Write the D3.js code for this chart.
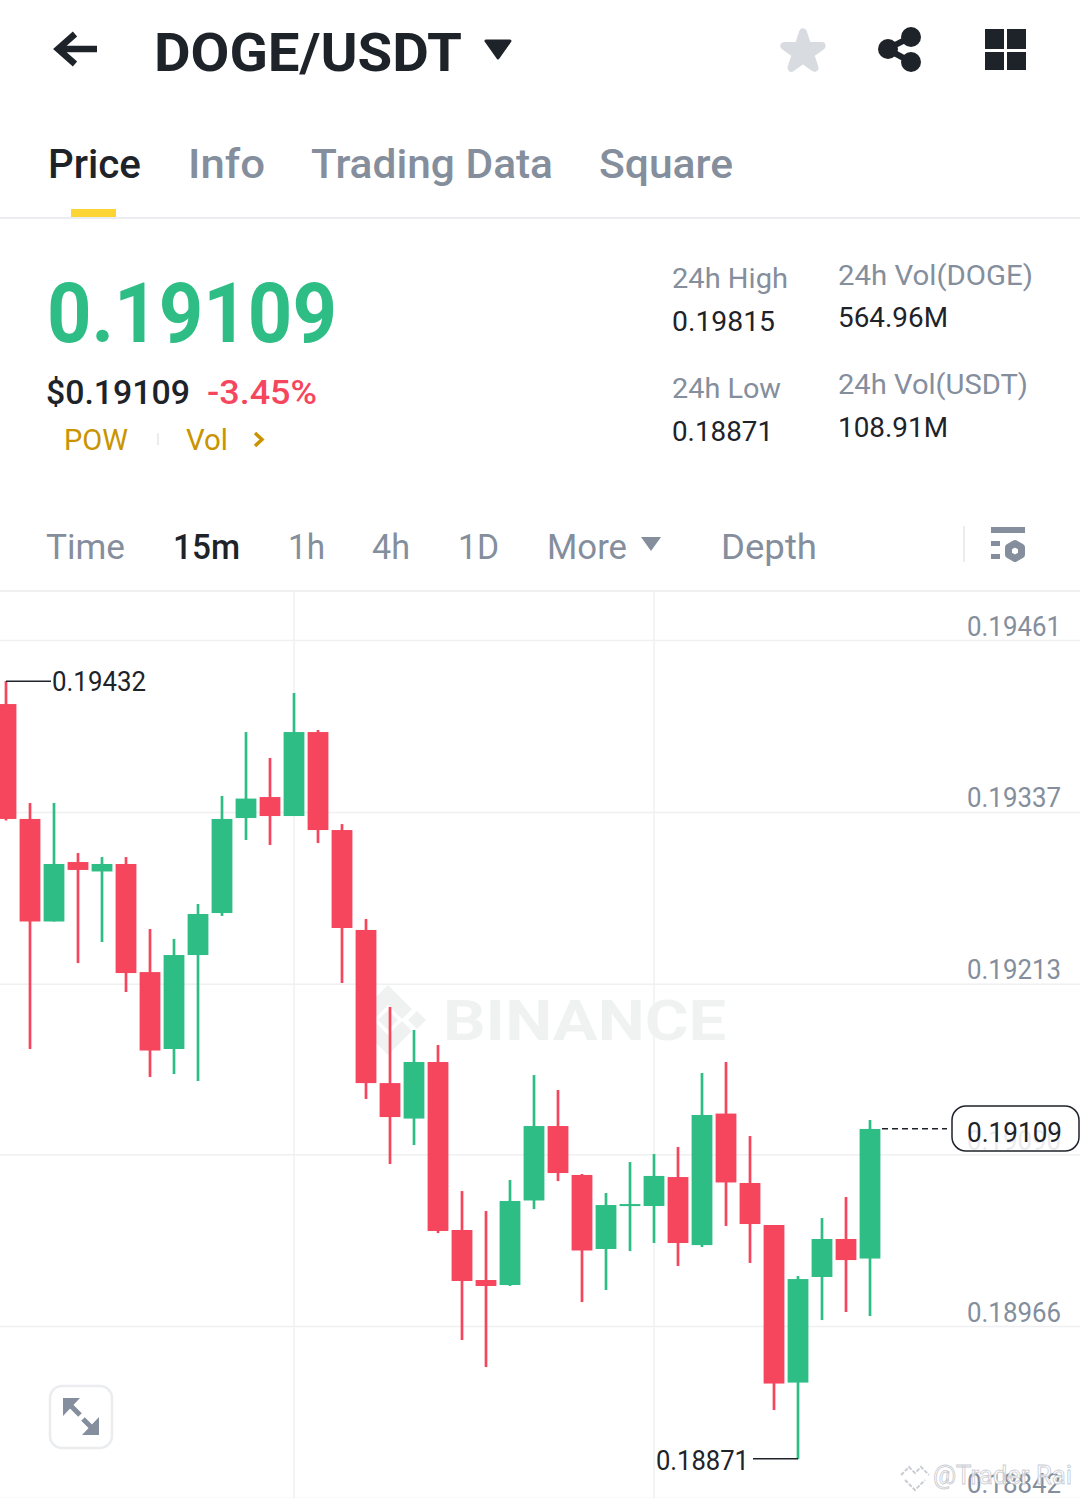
<!DOCTYPE html>
<html><head><meta charset="utf-8">
<script src="https://cdn.jsdelivr.net/npm/d3@7"></script>
<style>html,body{margin:0;padding:0;background:#fff}svg{display:block}text{font-family:Roboto,"Noto Sans",sans-serif}</style>
</head><body><svg id="c" width="1080" height="1498"></svg>
<script>
// ---- data
const colors = ["r","r","g","r","g","r","r","g","g","g","g","r","g","r","r","r","r","g","r","r","r","g","g","r","r","g","g","g","r","g","r","r","r","g","g","r","g"];
const opens  = [.194155,.193326,.192586,.193015,.192947,.193001,.192221,.191666,.192344,.192647,.193333,.193484,.193347,.193953,.193246,.192525,.191420,.191164,.191572,.190360,.189999,.189963,.190573,.191110,.190757,.190223,.190533,.190533,.190742,.190251,.191200,.190699,.190396,.189259,.190021,.190295,.190154];
const closes = [.193326,.192586,.193001,.192958,.193001,.192214,.191655,.192344,.192640,.193326,.193473,.193347,.193953,.193246,.192539,.191420,.191175,.191572,.190353,.189992,.189956,.190569,.191110,.190771,.190212,.190540,.190547,.190750,.190266,.191190,.190703,.190403,.189252,.190006,.190295,.190143,.191089];
const highs  = [.194321,.193441,.193441,.193080,.193051,.193051,.192532,.192460,.192712,.193492,.193953,.193766,.194235,.193968,.193289,.192604,.191969,.191803,.191695,.190641,.190497,.190721,.191478,.191370,.190764,.190627,.190850,.190908,.190959,.191493,.191572,.191038,.190396,.190028,.190446,.190598,.191154];
const lows   = [.193315,.191666,.192586,.192286,.192438,.192077,.191464,.191485,.191435,.192626,.193174,.193138,.193347,.193152,.192142,.191305,.190836,.190973,.190338,.189566,.189371,.189956,.190511,.190713,.189840,.189927,.190208,.190266,.190100,.190237,.190389,.190122,.189061,.188707,.189710,.189768,.189739];
const priceTicks = [0.19461,0.19337,0.19213,0.19090,0.18966,0.18842];
const gridCandles = [12,27];
const lastPrice = 0.19109, hiMark = 0.19432, loMark = 0.18871, hiIdx = 0, loIdx = 33;
const tabs = [["Price",48,141,"#1e2329",500],["Info",188,265,"#848e9c",500],["Trading Data",311,553,"#848e9c",500],["Square",599,733,"#848e9c",500]];
const intervals = [["Time",46,125,"#848e9c",400],["15m",173,240,"#1e2329",500],["1h",288,325,"#848e9c",400],["4h",372,410,"#848e9c",400],["1D",458,499,"#848e9c",400],["More",547,627,"#848e9c",400],["Depth",721,817,"#848e9c",400]];
const stats = [["24h High",672,788,288,"#848e9c"],["0.19815",672,775,331,"#1e2329"],["24h Low",672,781,398,"#848e9c"],["0.18871",672,773,441,"#1e2329"],["24h Vol(DOGE)",838,1033,285,"#848e9c"],["564.96M",838,948,327,"#1e2329"],["24h Vol(USDT)",838,1028,394,"#848e9c"],["108.91M",838,948,437,"#1e2329"]];

const RED="#f6465d", GREEN="#2ebd85", DARK="#1e2329", GREY="#848e9c", LINE="#eff0f2";
const svg=d3.select("#c");
const y=d3.scaleLinear().domain([0.19461,0.18966]).range([641,1327]);
const x=d3.scaleLinear().domain([0,36]).range([6,870]);

function T(s,x0,x1,base,size,weight,fill,g){
  const t=(g||svg).append("text").attr("x",x0).attr("y",base).attr("font-size",size).attr("font-weight",weight).attr("fill",fill).text(s);
  if(x1!=null) t.attr("textLength",x1-x0).attr("lengthAdjust","spacingAndGlyphs");
  return t;
}
// header
svg.append("path").attr("d","M97 49H58 M75 34L58 49L75 64").attr("fill","none").attr("stroke",DARK).attr("stroke-width",6.5);
T("DOGE/USDT",154,462,71,53,700,DARK);
svg.append("path").attr("d","M486 41H510L498 58Z").attr("fill",DARK).attr("stroke",DARK).attr("stroke-width",3).attr("stroke-linejoin","round");
svg.append("path").attr("d",d3.symbol().type(d3.symbolStar).size(430)()).attr("transform","translate(803,52)").attr("fill","#d8dbdf").attr("stroke","#d8dbdf").attr("stroke-width",8).attr("stroke-linejoin","round");
svg.append("path").attr("d","M911 37L887 49L911 62").attr("fill","none").attr("stroke",DARK).attr("stroke-width",6);
[[911,37],[888,49],[911,62]].forEach(p=>svg.append("circle").attr("cx",p[0]).attr("cy",p[1]).attr("r",10).attr("fill",DARK));
[[985,29,19,20],[1007,29,19,20],[985,52,19,18],[1007,52,19,18]].forEach(r=>svg.append("rect").attr("x",r[0]).attr("y",r[1]).attr("width",r[2]).attr("height",r[3]).attr("fill",DARK));
// tabs
tabs.forEach(t=>T(t[0],t[1],t[2],178,41,t[4],t[3]));
svg.append("rect").attr("x",71).attr("y",209).attr("width",45).attr("height",8).attr("fill","#fcd535");
svg.append("rect").attr("x",0).attr("y",217).attr("width",1080).attr("height",2).attr("fill","#eaecef");
// price block
T("0.19109",47,337,342,84,700,GREEN);
T("$0.19109",46,190,404,33,500,DARK);
T("-3.45%",207,317,404,33,500,RED);
T("POW",64,128,450,29,400,"#c99400");
svg.append("rect").attr("x",157).attr("y",433).attr("width",2).attr("height",12).attr("fill","#eaecef");
T("Vol",186,228,450,29,400,"#c99400");
svg.append("path").attr("d","M255 433L262 439.5L255 446").attr("fill","none").attr("stroke","#c99400").attr("stroke-width",3.5);
stats.forEach(s=>T(s[0],s[1],s[2],s[3],28,400,s[4]));
// intervals
intervals.forEach(t=>T(t[0],t[1],t[2],559,35,t[4],t[3]));
svg.append("path").attr("d","M641 537H661L651 551Z").attr("fill",GREY);
svg.append("rect").attr("x",963).attr("y",526).attr("width",2).attr("height",36).attr("fill","#eaecef");
svg.append("rect").attr("x",991).attr("y",527).attr("width",34).attr("height",6).attr("fill",GREY);
svg.append("rect").attr("x",991).attr("y",541).attr("width",9).attr("height",5).attr("fill",GREY);
svg.append("rect").attr("x",991).attr("y",554).attr("width",9).attr("height",5).attr("fill",GREY);
const hexPts=d3.range(6).map(k=>{const a=Math.PI/3*k-Math.PI/2;return [1015+7.5*Math.cos(a),551+7.5*Math.sin(a)].join(",");}).join(" ");
svg.append("polygon").attr("points",hexPts).attr("fill","none").attr("stroke",GREY).attr("stroke-width",7).attr("stroke-linejoin","round");
// chart frame + grid
svg.append("rect").attr("x",0).attr("y",590).attr("width",1080).attr("height",2).attr("fill","#eff0f2");
gridCandles.forEach(i=>svg.append("line").attr("x1",x(i)).attr("x2",x(i)).attr("y1",591).attr("y2",1498).attr("stroke",LINE).attr("stroke-width",1.5));
svg.append("g").selectAll("line").data(priceTicks).join("line").attr("x1",0).attr("x2",1080).attr("y1",d=>y(d)-.4).attr("y2",d=>y(d)-.4).attr("stroke",LINE).attr("stroke-width",1.5);
// watermark
const wm=svg.append("g").attr("fill","#f0f2f2");
T("BINANCE",443,726,1040,56,700,"#f0f2f2",wm);
wm.append("path").attr("d","M388 985L412 1009L402 1019L388 1005L374 1019L364 1009Z M388 1055L412 1031L402 1021L388 1035L374 1021L364 1031Z M417 1011L426 1020L417 1029L408 1020Z M388 1010L398 1020L388 1030L378 1020Z");
// axis labels
svg.append("g").selectAll("text").data(priceTicks).join("text").attr("x",967).attr("y",d=>y(d)-5.5).attr("textLength",94).attr("lengthAdjust","spacingAndGlyphs").attr("font-size",27).attr("fill",GREY).text(d=>d.toFixed(5));
// candles
const idx=d3.range(opens.length);
const col=i=>colors[i]==="r"?RED:GREEN;
svg.append("g").selectAll("line").data(idx).join("line").attr("x1",x).attr("x2",x).attr("y1",i=>y(highs[i])).attr("y2",i=>y(lows[i])).attr("stroke",col).attr("stroke-width",2.7);
svg.append("g").selectAll("rect").data(idx).join("rect").attr("x",i=>x(i)-10.4).attr("width",20.8).attr("y",i=>y(Math.max(opens[i],closes[i]))).attr("height",i=>Math.max(2,Math.abs(y(opens[i])-y(closes[i])))).attr("fill",col);
// high/low marks
svg.append("path").attr("d",`M${x(hiIdx)} ${y(hiMark)}H51`).attr("stroke",DARK).attr("stroke-width",1.5).attr("fill","none");
T("0.19432",52,146,691,27,400,DARK);
svg.append("path").attr("d",`M${x(loIdx)} ${y(loMark)}H753`).attr("stroke",DARK).attr("stroke-width",1.5).attr("fill","none");
T("0.18871",656,749,1470,27,400,DARK);
// last price
svg.append("line").attr("x1",882).attr("x2",947).attr("y1",y(lastPrice)).attr("y2",y(lastPrice)).attr("stroke",DARK).attr("stroke-width",1.5).attr("stroke-dasharray","6 4");
svg.append("rect").attr("x",952).attr("y",1106).attr("width",127).attr("height",45).attr("rx",14).attr("fill","#fff").attr("fill-opacity",.82).attr("stroke",DARK).attr("stroke-width",1.5);
T("0.19109",967,1062,1142,27,400,DARK);
// expand button
svg.append("rect").attr("x",50).attr("y",1386).attr("width",62).attr("height",62).attr("rx",12).attr("fill","#fff").attr("stroke","#eaecef").attr("stroke-width",2.5);
svg.append("path").attr("d","M63 1398H80L63 1416Z M99 1435H82L99 1417Z").attr("fill","#848e9c");
svg.append("path").attr("d","M70 1405L80 1415 M83 1419L92 1428").attr("fill","none").attr("stroke","#848e9c").attr("stroke-width",5);
// credit
const cr=svg.append("g");
T("@Trader Rai",933,1072,1484,25,400,"#fff",cr).attr("stroke","#c9cdd2").attr("stroke-width",.8);
cr.append("path").attr("d","M901 1475L909 1467L915 1473L921 1467L929 1475 M905 1480L915 1490L925 1480").attr("fill","none").attr("stroke","#c9cdd2").attr("stroke-width",2).attr("stroke-dasharray","4 1.5");
</script></body></html>
